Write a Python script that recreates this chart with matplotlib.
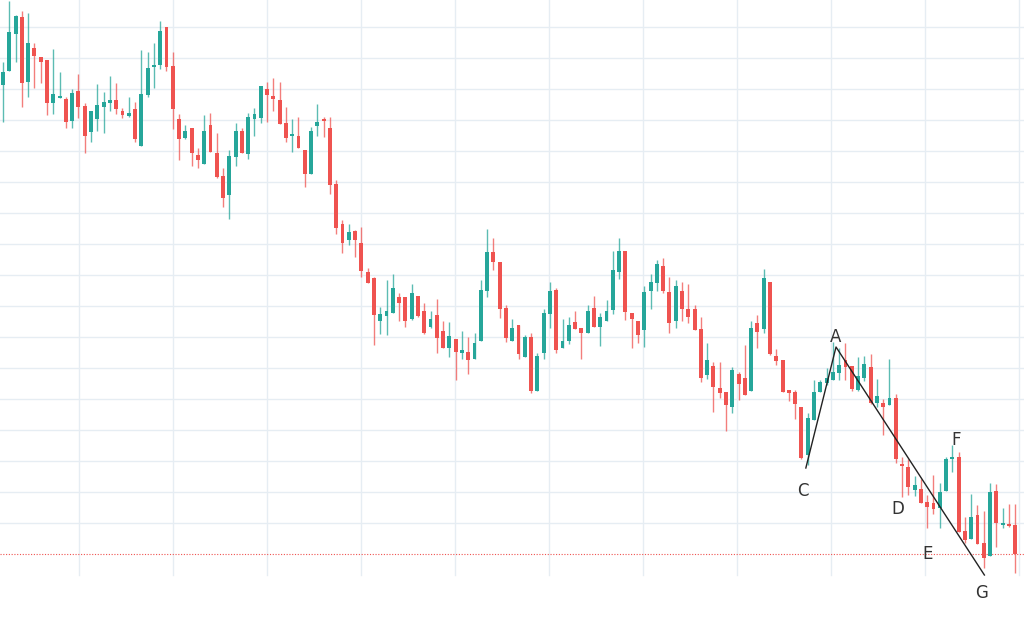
import matplotlib
matplotlib.use("Agg")
import matplotlib.pyplot as plt
import numpy as np

# OHLC readings (in chart pixel-level units, converted to price below)
opens = [85,71,34,17,82,48,57,60,103,98,99,121,91,106,132,119,107,103,100,111,116,109,146,95,67,65,27,66,119,138,
         128,155,164,125,153,176,195,157,131,154,119,118,89,96,100,123,136,136,150,174,126,119,128,184,224,240,231,243,272,278,
         321,316,313,297,297,319,296,311,327,315,331,348,339,353,352,359,341,291,252,262,308,341,325,357,337,391,353,314,290,348,
         341,322,328,333,308,327,321,310,272,251,313,321,330,291,283,266,292,321,291,309,309,329,375,366,388,392,407,374,378,391,
         323,329,282,356,360,390,392,407,455,420,392,383,380,373,360,366,390,378,367,403,403,405,398,464,467,490,489,502,503,508,
         491,459,457,531,539,515,543,556,491,525,524,525]
closes = [72,32,16,83,43,56,62,103,94,96,122,93,107,136,111,105,102,100,109,115,113,139,94,68,66,31,67,109,139,131,
          153,160,131,152,177,198,156,131,153,117,114,86,95,99,124,138,135,148,174,131,122,121,185,228,243,232,240,271,283,315,
          314,311,288,303,321,293,316,333,319,338,348,336,352,350,360,343,290,252,262,309,338,328,354,337,391,356,313,291,350,341,
          325,329,333,311,327,317,311,270,251,312,319,335,292,282,264,291,323,286,309,317,330,378,360,387,393,405,370,384,395,328,
          332,278,354,361,392,393,404,458,418,392,382,378,372,365,367,389,376,364,403,396,407,398,459,466,487,485,503,507,509,492,
          459,457,532,540,517,544,558,492,523,523,526,554]
highs = [62,1,15,11,13,43,57,60,49,72,97,89,74,103,111,84,92,76,83,108,97,102,50,52,43,21,27,52,114,125,
         128,148,115,113,133,168,150,123,128,113,108,86,82,78,82,107,119,117,150,127,104,117,117,180,220,224,230,227,268,277,
         307,280,274,293,297,284,296,303,311,299,321,322,339,331,337,333,280,229,238,262,305,319,325,335,333,353,309,282,288,319,
         317,311,328,305,296,313,300,251,238,251,313,321,286,274,260,258,277,280,282,284,305,317,343,362,362,392,367,372,345,321,
         315,269,282,349,360,390,390,407,413,380,380,368,342,348,343,366,357,356,354,379,399,359,394,457,459,476,479,495,475,483,
         457,445,452,517,494,505,511,483,484,508,504,504]
lows = [122,71,62,107,97,88,83,115,114,98,128,128,118,153,142,131,133,111,114,118,117,142,146,97,88,69,71,129,160,139,
        166,168,164,152,178,207,219,166,153,159,136,123,122,111,124,142,152,148,187,174,136,137,194,234,253,245,257,277,283,345,
        334,335,313,321,327,320,317,334,328,353,348,357,380,359,374,359,341,297,270,318,342,341,359,357,393,391,359,328,353,348,
        344,329,359,333,327,346,321,314,279,320,348,343,347,309,291,293,333,328,321,323,330,382,379,412,398,431,413,400,395,391,
        348,333,355,365,392,401,419,459,465,420,392,385,380,380,380,391,391,381,404,407,435,405,463,497,495,496,503,528,514,528,
        491,472,532,543,539,544,568,556,547,528,527,573]

# Pattern points: (candle index, level)
pattern_idx = [127.7, 132.5, 156.1]
pattern_lvl = [468, 347, 575]
label_text = ["A", "C", "D", "E", "F", "G"]
label_idx = [132.4, 127.3, 142.4, 147.0, 151.6, 155.6]
label_lvl = [337, 491, 509, 554, 440, 593]
ref_level = 554

def to_price(v):
    return 1.2000 - np.asarray(v, dtype=float) * 0.0001

o, c, h, l = map(to_price, (opens, closes, highs, lows))
n = len(o)
idx = np.arange(n)
green, red = "#26a69a", "#ef5350"
cols = [green if cc >= oo else red for oo, cc in zip(o, c)]

fig = plt.figure(figsize=(10.24, 6.2), dpi=100)
ax = fig.add_axes([0, 0, 1, 1])
ax.set_xlim(-0.477, 162.4)
ax.set_ylim(to_price(620), to_price(0))
ax.axis("off")

# grid
for k in range(18):
    yv = to_price(27 + 31 * k)
    if 27 + 31 * k != ref_level:
        ax.axhline(yv, color="#e6edf3", lw=1, zorder=0)
ymax_frac = (620 - 575) / 620
for k in range(11):
    xi = (79 + 94 * k - 3) / 6.286
    ax.axvline(xi, ymin=ymax_frac, ymax=1, color="#e6edf3", lw=1, zorder=0)

ax.axhline(to_price(ref_level), color="#ef5350", lw=0.8, ls=(0, (1, 1.5)), zorder=1)

ax.vlines(idx, l, h, colors=cols, lw=1, alpha=0.75, zorder=2)
body_b = np.minimum(o, c)
body_h = np.maximum(np.abs(c - o), 0.00015)
ax.bar(idx, body_h, bottom=body_b, width=0.62, color=cols, zorder=3, linewidth=0)

ax.plot(pattern_idx, to_price(pattern_lvl), color="#222222", lw=1, zorder=4)
for t, xi, yl in zip(label_text, label_idx, label_lvl):
    ax.text(xi, to_price(yl), t, ha="center", va="center", fontsize=12, color="#333333", zorder=5)

fig.savefig("out.png", dpi=100)
